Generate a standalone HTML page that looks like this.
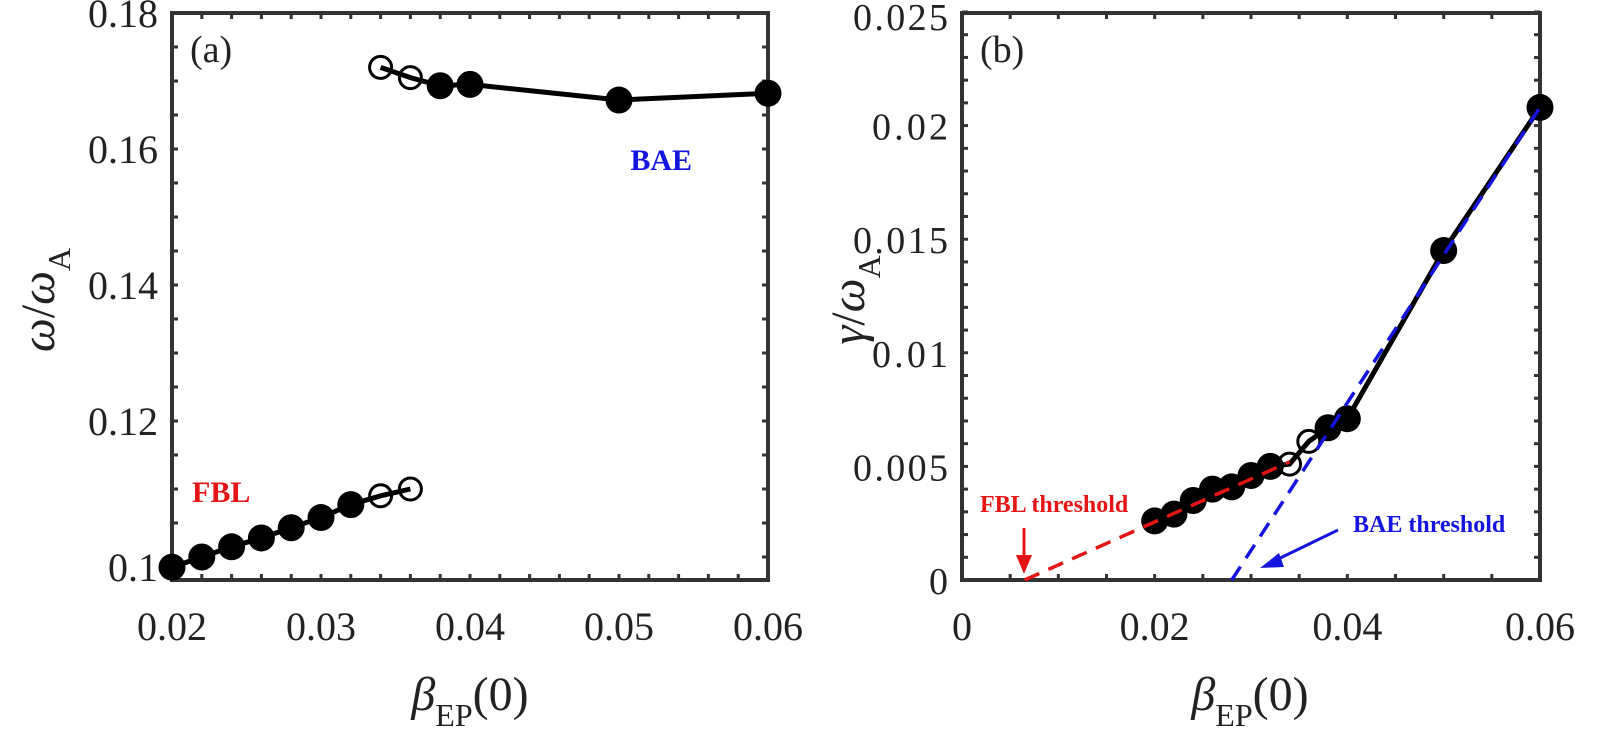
<!DOCTYPE html>
<html><head><meta charset="utf-8"><style>
html,body{margin:0;padding:0;background:#fff;width:1600px;height:737px;overflow:hidden}
svg text{font-family:"Liberation Serif",serif}
</style></head><body>
<svg id="s" width="1600" height="737" xmlns="http://www.w3.org/2000/svg"></svg>
<script>
const s=document.getElementById('s');let h='';
const ax=v=>172+(v-0.02)/0.04*596, ay=v=>13+(0.18-v)*6800;
const bx=v=>962+v/0.06*578, by=v=>580-v*22720;
function frame(x0,x1,y0,y1){h+=`<rect x="${x0}" y="${y0}" width="${x1-x0}" height="${y1-y0}" fill="none" stroke="#333" stroke-width="4"/>`;}
function tick(x,y,dx,dy){h+=`<line x1="${x}" y1="${y}" x2="${x+dx}" y2="${y+dy}" stroke="#333" stroke-width="3"/>`;}
for(let i=0;i<=20;i++){let x=ax(0.02+i*0.002);tick(x,580,0,-6);tick(x,13,0,6);}
for(let v=0.1;v<=0.1801;v+=0.005){let y=ay(v);tick(172,y,6,0);tick(768,y,-6,0);}
for(let i=0;i<=12;i++){let x=bx(i*0.005);tick(x,580,0,-6);tick(x,13,0,6);}
for(let i=0;i<=25;i++){let y=by(i*0.001);tick(962,y,6,0);tick(1540,y,-6,0);}
frame(172,768,13,580);frame(962,1540,13,580);
const T=(x,y,t,a,sz,extra)=>{h+=`<text x="${x}" y="${y}" font-size="${sz||40}" text-anchor="${a||'middle'}" fill="#222" ${extra||''}>${t}</text>`;};
[[0.02,'0.02'],[0.03,'0.03'],[0.04,'0.04'],[0.05,'0.05'],[0.06,'0.06']].forEach(([v,t])=>T(ax(v),640,t));
[[0.18,'0.18'],[0.16,'0.16'],[0.14,'0.14'],[0.12,'0.12'],[0.1,'0.1']].forEach(([v,t])=>T(158,ay(v)+14+(v==0.1?10:0),t,'end'));
[[0,'0'],[0.02,'0.02'],[0.04,'0.04'],[0.06,'0.06']].forEach(([v,t])=>T(bx(v),640,t));
[[0.025,'0.025'],[0.02,'0.02'],[0.015,'0.015'],[0.01,'0.01'],[0.005,'0.005'],[0,'0']].forEach(([v,t])=>T(948,by(v)+14+(v==0.025?4:0),t,'end',38,'textLength="'+(t.length*19)+'"'));
T(190,62,'(a)','start',38);T(980,62,'(b)','start',38);
h+=`<text x="470" y="710" font-size="48" text-anchor="middle" fill="#222"><tspan font-style="italic">β</tspan><tspan font-size="32" dy="16">EP</tspan><tspan dy="-16">(0)</tspan></text>`;
h+=`<text x="1250" y="710" font-size="48" text-anchor="middle" fill="#222"><tspan font-style="italic">β</tspan><tspan font-size="32" dy="16">EP</tspan><tspan dy="-16">(0)</tspan></text>`;
h+=`<text transform="translate(54,300) rotate(-90)" font-size="48" text-anchor="middle" fill="#222"><tspan font-style="italic">ω</tspan>/<tspan font-style="italic">ω</tspan><tspan font-size="32" dy="16">A</tspan></text>`;
h+=`<text transform="translate(864,300) rotate(-90)" font-size="48" text-anchor="middle" fill="#222"><tspan font-style="italic">γ</tspan>/<tspan font-style="italic">ω</tspan><tspan font-size="32" dy="16">A</tspan></text>`;
h+=`<text x="692" y="170" font-size="30" font-weight="bold" fill="#1515e0" text-anchor="end">BAE</text>`;
h+=`<text x="192" y="502" font-size="30" font-weight="bold" fill="#e51515">FBL</text>`;
h+=`<text x="980" y="512" font-size="24" font-weight="bold" fill="#e51515">FBL threshold</text>`;
h+=`<text x="1353" y="532" font-size="24" font-weight="bold" fill="#1515e0">BAE threshold</text>`;
h+=`<line x1="1024" y1="528" x2="1024" y2="560" stroke="#e51515" stroke-width="3"/><polygon points="1016,555 1032,555 1024,574" fill="#e51515"/>`;
h+=`<line x1="1338" y1="530" x2="1272" y2="562" stroke="#1515e0" stroke-width="3"/><polygon points="1260,568 1279,553 1284,567" fill="#1515e0"/>`;
function line(pts,col,w,dash){h+=`<polyline points="${pts.map(p=>p.join(',')).join(' ')}" fill="none" stroke="${col}" stroke-width="${w}" ${dash?`stroke-dasharray="${dash}"`:''}/>`;}
function mk(x,y,open){h+=open?`<circle cx="${x}" cy="${y}" r="11" fill="none" stroke="#000" stroke-width="3"/>`:`<circle cx="${x}" cy="${y}" r="13.5" fill="#000"/>`;}
const fbl=[[0.02,0.0985],[0.022,0.1],[0.024,0.1015],[0.026,0.1028],[0.028,0.1043],[0.03,0.1058],[0.032,0.1077],[0.034,0.109,1],[0.036,0.110,1]];
const bae=[[0.034,0.172,1],[0.036,0.1705,1],[0.038,0.1693],[0.04,0.1695],[0.05,0.1672],[0.06,0.1682]];
[fbl,bae].forEach(d=>{line(d.map(p=>[ax(p[0]),ay(p[1])]),'#000',5);d.forEach(p=>mk(ax(p[0]),ay(p[1]),p[2]));});
const g=[[0.02,0.0026],[0.022,0.0029],[0.024,0.0035],[0.026,0.004],[0.028,0.0041],[0.03,0.0046],[0.032,0.005],[0.034,0.0051,1],[0.036,0.0061,1],[0.038,0.0067],[0.04,0.0071],[0.05,0.0145],[0.06,0.0208]];
line(g.map(p=>[bx(p[0]),by(p[1])]),'#000',5);
g.forEach(p=>mk(bx(p[0]),by(p[1]),p[2]));
line([[bx(0.0065),by(0)],[bx(0.034),by(0.0052)]],'#e51515',3.5,'16,10');
line([[bx(0.028),by(0)],[bx(0.06),by(0.0208)]],'#1515e0',3.5,'16,10');
s.innerHTML=h;
</script>
</body></html>
